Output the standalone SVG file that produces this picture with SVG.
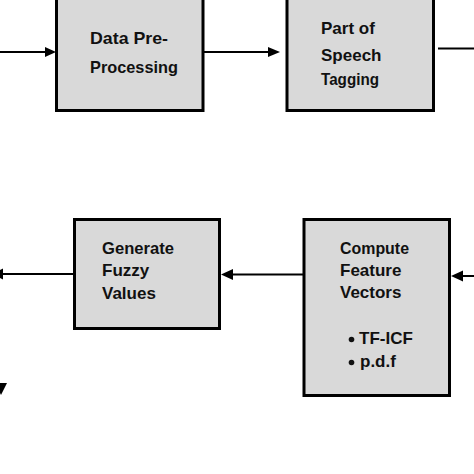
<svg xmlns="http://www.w3.org/2000/svg" width="474" height="474" viewBox="0 0 474 474">
<style>
.box{fill:#d9d9d9;stroke:#000;stroke-width:3}
.t{font-family:"Liberation Sans",Arial,sans-serif;font-weight:bold;font-size:17px;fill:#111}
.ln{stroke:#000;stroke-width:2;fill:none}
.ah{fill:#000}
</style>
<rect width="474" height="474" fill="#fff"/>
<g id="connectors">
  <line class="ln" x1="0" y1="52" x2="46" y2="52"/>
  <polygon class="ah" points="45,47 56,52 45,57"/>
  <line class="ln" x1="204" y1="52" x2="269" y2="52"/>
  <polygon class="ah" points="268,47 280,52 268,57"/>
  <line class="ln" x1="438" y1="48.5" x2="474" y2="48.5"/>
  <line class="ln" x1="3" y1="274" x2="73" y2="274"/>
  <polygon class="ah" points="3,268.5 3,279.5 -8,274"/>
  <line class="ln" x1="232" y1="274.5" x2="303" y2="274.5"/>
  <polygon class="ah" points="233,269 221,274.5 233,280"/>
  <line class="ln" x1="462" y1="276" x2="474" y2="276"/>
  <polygon class="ah" points="463,270.5 451,276 463,281.5"/>
  <polygon class="ah" points="-5,383 7,383 1,395"/>
</g>
<g id="data-preprocessing">
  <rect class="box" x="56.5" y="-5" width="146.5" height="115.5"/>
  <text class="t" x="90" y="43.5" textLength="78" lengthAdjust="spacingAndGlyphs">Data Pre-</text>
  <text class="t" x="90" y="72.5" textLength="88" lengthAdjust="spacingAndGlyphs">Processing</text>
</g>
<g id="pos-tagging">
  <rect class="box" x="287" y="-5" width="146.5" height="115.5"/>
  <text class="t" x="321" y="34">Part of</text>
  <text class="t" x="321" y="60.5">Speech</text>
  <text class="t" x="321" y="85" textLength="58" lengthAdjust="spacingAndGlyphs">Tagging</text>
</g>
<g id="generate-fuzzy">
  <rect class="box" x="74.5" y="219.5" width="145" height="109"/>
  <text class="t" x="102" y="254" textLength="72" lengthAdjust="spacingAndGlyphs">Generate</text>
  <text class="t" x="102" y="276">Fuzzy</text>
  <text class="t" x="102" y="299">Values</text>
</g>
<g id="compute-features">
  <rect class="box" x="304" y="219.5" width="145.5" height="176"/>
  <text class="t" x="340" y="254" textLength="69" lengthAdjust="spacingAndGlyphs">Compute</text>
  <text class="t" x="340" y="276">Feature</text>
  <text class="t" x="340" y="298">Vectors</text>
  <circle cx="351.5" cy="339.5" r="2.8" fill="#111"/>
  <text class="t" x="359" y="344">TF-ICF</text>
  <circle cx="351.5" cy="362.5" r="2.8" fill="#111"/>
  <text class="t" x="360" y="367">p.d.f</text>
</g>
</svg>
